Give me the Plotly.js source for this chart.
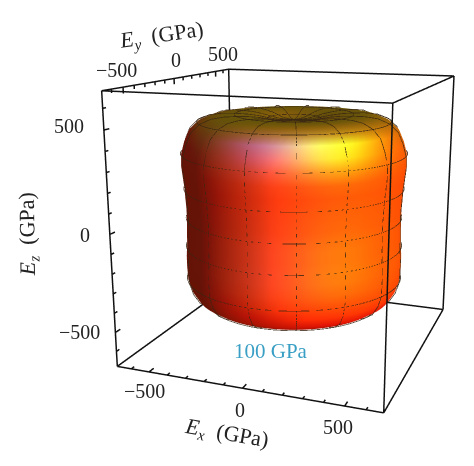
<!DOCTYPE html>
<html><head><meta charset="utf-8"><script src="https://cdn.plot.ly/plotly-3.0.1.min.js"></script>
<style>html,body{margin:0;padding:0;background:#fff;width:474px;height:466px;overflow:hidden;position:relative}#c{position:absolute;left:-50px;top:-130px;width:688px;height:688px}</style></head><body><div id="c"></div>
<script>
const polarDeg=[0,5,10,15,20,25,30,35,40,45,50,55,60,65,70,75,80,85,90,95,100,105,110,115,120,125,130,135,140,145,150,155,160,165,170,175,180];
const radiusGPa=[490,492,500,518,543,570,600,634,668,690,695,680,662,635,605,582,568,558,555,558,566,578,598,620,645,660,665,650,625,595,565,540,520,505,492,485,480];
const azimuthDeg=[];for(let a=0;a<=360;a+=4)azimuthDeg.push(a);
const xTicks=[-500,0,500],yTicks=[-500,0,500],zTicks=[-500,0,500];
const minorTicks=[-600,-500,-400,-300,-200,-100,0,100,200,300,400,500,600];
const L=680, sceneRange=[-1000,1000];
const eye={x:.745,y:-1.965,z:.534};
const baseColor=[1,.42,.04], ambient=[.4,.18,.35];
const lights=[{dir:[1.5,-.5,2],col:[.72,0,0]},{dir:[1.5,1.5,2],col:[0,.9,0]},{dir:[-.5,1.5,2],col:[0,0,.8]}];
const specK=.72, specPow=12;
const rad=d=>d*Math.PI/180;
const nrm=v=>{const m=Math.hypot(...v)||1;return v.map(c=>c/m)};
const cross=(a,b)=>[a[1]*b[2]-a[2]*b[1],a[2]*b[0]-a[0]*b[2],a[0]*b[1]-a[1]*b[0]];
const dot=(a,b)=>a[0]*b[0]+a[1]*b[1]+a[2]*b[2];
const vw=nrm([eye.x,eye.y,eye.z]), vr=nrm(cross([0,0,1],vw)), vu=cross(vw,vr);
const toWorld=d=>{const n=nrm(d);return nrm([0,1,2].map(i=>n[0]*vr[i]+n[1]*vu[i]+n[2]*vw[i]))};
const wl=lights.map(l=>{const w=toWorld(l.dir);return{w,col:l.col,h:nrm(w.map((c,i)=>c+vw[i]))}});
const nT=polarDeg.length,nA=azimuthDeg.length;
const P=polarDeg.map((t,i)=>azimuthDeg.map(a=>{const r=radiusGPa[i];return[r*Math.sin(rad(t))*Math.cos(rad(a)),r*Math.sin(rad(t))*Math.sin(rad(a)),r*Math.cos(rad(t))]}));
const mx=[],my=[],mz=[],mc=[],mi=[],mj=[],mk=[];
for(let i=0;i<nT;i++)for(let j=0;j<nA;j++){
 const p=P[i][j];mx.push(p[0]);my.push(p[1]);mz.push(p[2]);
 const ip=Math.max(i-1,0),in_=Math.min(i+1,nT-1);
 const r1=P[in_][j],r0=P[ip][j];
 const dr=Math.hypot(r1[0],r1[1])-Math.hypot(r0[0],r0[1]),dz=r1[2]-r0[2];
 const a=rad(azimuthDeg[j]);
 let n=nrm([-dz*Math.cos(a),-dz*Math.sin(a),dr]);
 if(i==0)n=[0,0,1];if(i==nT-1)n=[0,0,-1];
 const c=[0,1,2].map(ch=>{let s=ambient[ch];let sp=0;wl.forEach(l=>{s+=l.col[ch]*Math.max(0,dot(n,l.w));sp+=l.col[ch]*Math.pow(Math.max(0,dot(n,l.h)),specPow)});return baseColor[ch]*s+specK*sp});
 mc.push('rgb('+c.map(v=>Math.round(255*Math.min(1,v))).join(',')+')');
}
for(let i=0;i<nT-1;i++)for(let j=0;j<nA-1;j++){const a=i*nA+j,b=a+1,d=a+nA,e=d+1;mi.push(a,b);mj.push(b,e);mk.push(d,d);}
const traces=[{type:'mesh3d',x:mx,y:my,z:mz,i:mi,j:mj,k:mk,vertexcolor:mc,flatshading:false,hoverinfo:'skip',
 lighting:{ambient:1,diffuse:0,specular:0,roughness:1,fresnel:0}}];
const lx=[],ly=[],lz=[];
const add=p=>{lx.push(p[0]*1.007);ly.push(p[1]*1.007);lz.push(p[2]*1.007)};
const brk=()=>{lx.push(null);ly.push(null);lz.push(null)};
polarDeg.forEach((t,i)=>{if(t%15||t==0||t==180)return;azimuthDeg.forEach((a,j)=>add(P[i][j]));brk();});
azimuthDeg.forEach((a,j)=>{if(a%24!=4)return;polarDeg.forEach((t,i)=>add(P[i][j]));brk();});
traces.push({type:'scatter3d',mode:'lines',x:lx,y:ly,z:lz,line:{color:'rgba(45,30,15,.8)',width:1.6},hoverinfo:'skip',showlegend:false});
const bx=[],by=[],bz=[];
const seg=(p,q)=>{bx.push(p[0],q[0],null);by.push(p[1],q[1],null);bz.push(p[2],q[2],null)};
[-L,L].forEach(a=>[-L,L].forEach(b=>{seg([-L,a,b],[L,a,b]);seg([a,-L,b],[a,L,b]);seg([a,b,-L],[a,b,L]);}));
minorTicks.forEach(v=>{const m=v%500==0?30:18;
 seg([v,-L,-L],[v,-L+m*1.5,-L]);seg([-L,v,L],[-L,v,L-m]);seg([-L,-L,v],[-L,-L+m*1.5,v]);});
traces.push({type:'scatter3d',mode:'lines',x:bx,y:by,z:bz,line:{color:'#111',width:3},hoverinfo:'skip',showlegend:false});
const fmt=v=>v<0?'\u2212'+(-v):''+v;
const tf={family:'Liberation Serif',size:20,color:'#222'},ttf={family:'Liberation Serif',size:22,color:'#222'};
const ann=[];
const note=(x,y,z,text,xs,ys,font,angle)=>ann.push({x,y,z,text,xshift:xs,yshift:ys,showarrow:false,font,textangle:angle||0});
const xShiftX=[-5,-3,-7],xShiftY=[-19,-22,-21];
xTicks.forEach((v,i)=>note(v,-L,-L,fmt(v),xShiftX[i],xShiftY[i],tf));
const yShiftX=[-7,2,7],yShiftY=[17,18,17];
yTicks.forEach((v,i)=>note(-L,v,L,fmt(v),yShiftX[i],yShiftY[i],tf));
const zShiftX=[-36,-25,-35],zShiftY=[1,-1,4];
zTicks.forEach((v,i)=>note(-L,-L,v,fmt(v),zShiftX[i],zShiftY[i],tf));
note(0,-L,-L,'<i>E<sub>x</sub></i>  (GPa)',-16,-46,ttf,10);
note(-L,0,L,'<i>E<sub>y</sub></i>  (GPa)',-13,42,ttf,-8);
note(-L,-L,0,'<i>E<sub>z</sub></i>  (GPa)',-81,0,ttf,-91);
note(0,-L,-L,'100 GPa',28,37,{family:'Liberation Serif',size:21,color:'#3a9fc4'});
const ax={visible:false,range:sceneRange,autorange:false,showspikes:false};
const layout={width:688,height:688,margin:{l:0,r:0,t:0,b:0},paper_bgcolor:'#fff',showlegend:false,
 scene:{domain:{x:[0,1],y:[0,1]},aspectmode:'cube',camera:{eye,center:{x:0,y:0,z:0},up:{x:0,y:0,z:1},projection:{type:'perspective'}},xaxis:ax,yaxis:ax,zaxis:ax,annotations:ann}};
Plotly.newPlot('c',traces,layout,{displayModeBar:false});
</script></body></html>
